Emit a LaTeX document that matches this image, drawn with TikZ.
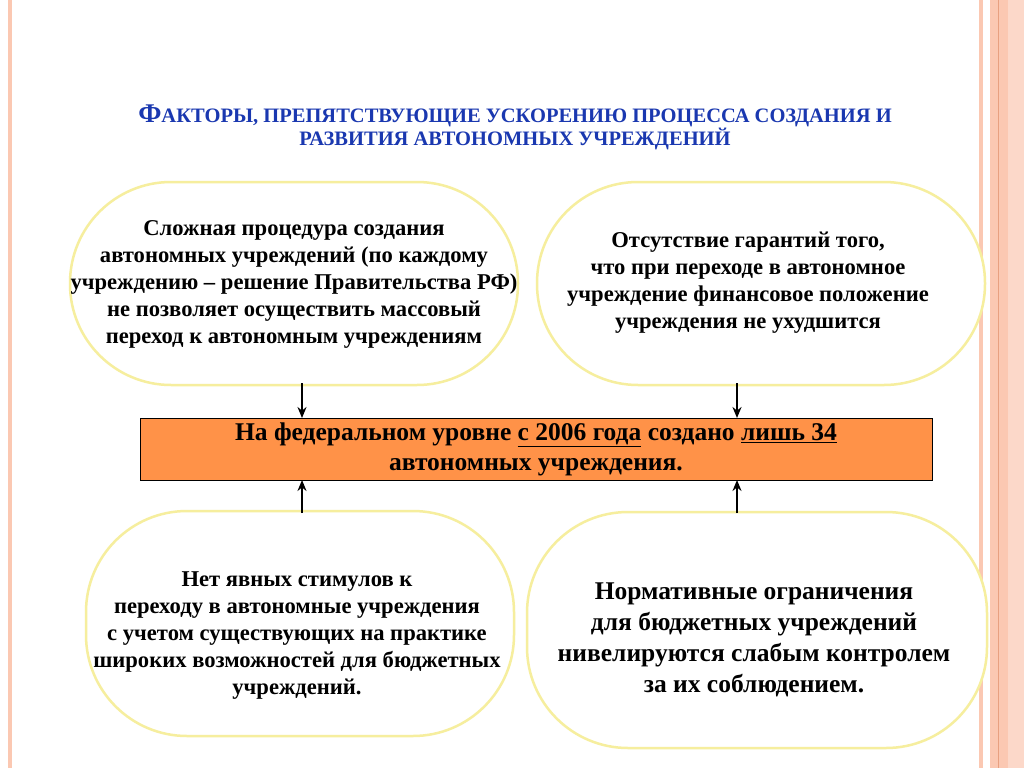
\documentclass[tikz,border=0pt]{standalone}
\usepackage{fontspec}
\setmainfont{Liberation Serif}
\usetikzlibrary{arrows.meta}
\definecolor{peach}{HTML}{FBC8B2}
\definecolor{peachd}{HTML}{E8A080}
\definecolor{bord}{HTML}{F6EE9E}
\definecolor{orng}{HTML}{FF9248}
\definecolor{ttl}{HTML}{1A38B0}
\tikzset{
 oval/.style={draw=bord,line width=2.5pt,rounded corners=101pt,fill=white,inner sep=0pt},
 txt/.style={align=center,font=\bfseries\fontsize{22.6}{27}\selectfont},
 arr/.style={-{Stealth[length=11pt,width=9pt]},line width=1.8pt}
}
\begin{document}
\begin{tikzpicture}[x=1pt,y=-1pt]
\useasboundingbox (0,0) rectangle (1024,768);
\fill[white] (0,0) rectangle (1024,768);
\fill[peach] (8,0) rectangle (12,768);
\fill[peach] (979,0) rectangle (983,768);
\fill[peach] (990,0) rectangle (1024,768);
\draw[peachd,line width=1pt] (998,0) -- (998,768);
\fill[peach!70!white] (1008,0) rectangle (1024,768);
% title
\node[ttl,font=\bfseries,align=center] (t) at (515,127) {%
{\fontsize{27}{33}\selectfont Ф}{\fontsize{20.5}{33}\selectfont АКТОРЫ, ПРЕПЯТСТВУЮЩИЕ УСКОРЕНИЮ ПРОЦЕССА СОЗДАНИЯ И}\\
{\fontsize{20.5}{33}\selectfont РАЗВИТИЯ АВТОНОМНЫХ УЧРЕЖДЕНИЙ}};
% ovals
\draw[oval] (70,182) rectangle (518,385);
\node[txt] (a) at (294,284) {Сложная процедура создания\\автономных учреждений (по каждому\\учреждению – решение Правительства РФ)\\не позволяет осуществить массовый\\переход к автономным учреждениям};
\draw[oval] (537,182) rectangle (985,385);
\node[txt] (b) at (748,283) {Отсутствие гарантий того,\\что при переходе в автономное\\учреждение финансовое положение\\учреждения не ухудшится};
\draw[oval] (86,511) rectangle (514,736);
\node[txt] (c) at (297,636) {Нет явных стимулов к\\переходу в автономные учреждения\\с учетом существующих на практике\\широких возможностей для бюджетных\\учреждений.};
\draw[oval] (527,512) rectangle (987,748);
\node[txt,font=\bfseries\fontsize{25.5}{31}\selectfont] (d) at (754,640) {Нормативные ограничения\\для бюджетных учреждений\\нивелируются слабым контролем\\за их соблюдением.};
% center box
\node[draw=black,line width=0.8pt,fill=orng,minimum width=792pt,minimum height=62pt,align=center,font=\bfseries\fontsize{25.5}{30}\selectfont] (m) at (536,449) {На федеральном уровне \underline{с 2006 года} создано \underline{лишь 34}\\автономных учреждения.};
% arrows
\coordinate (a1) at (302,383); \coordinate (a2) at (302,418);
\coordinate (b1) at (737,383); \coordinate (b2) at (737,418);
\coordinate (c1) at (302,513); \coordinate (c2) at (302,480);
\coordinate (d1) at (737,513); \coordinate (d2) at (737,480);
\draw[arr] (a1) -- (a2);
\draw[arr] (b1) -- (b2);
\draw[arr] (c1) -- (c2);
\draw[arr] (d1) -- (d2);
\end{tikzpicture}
\end{document}
